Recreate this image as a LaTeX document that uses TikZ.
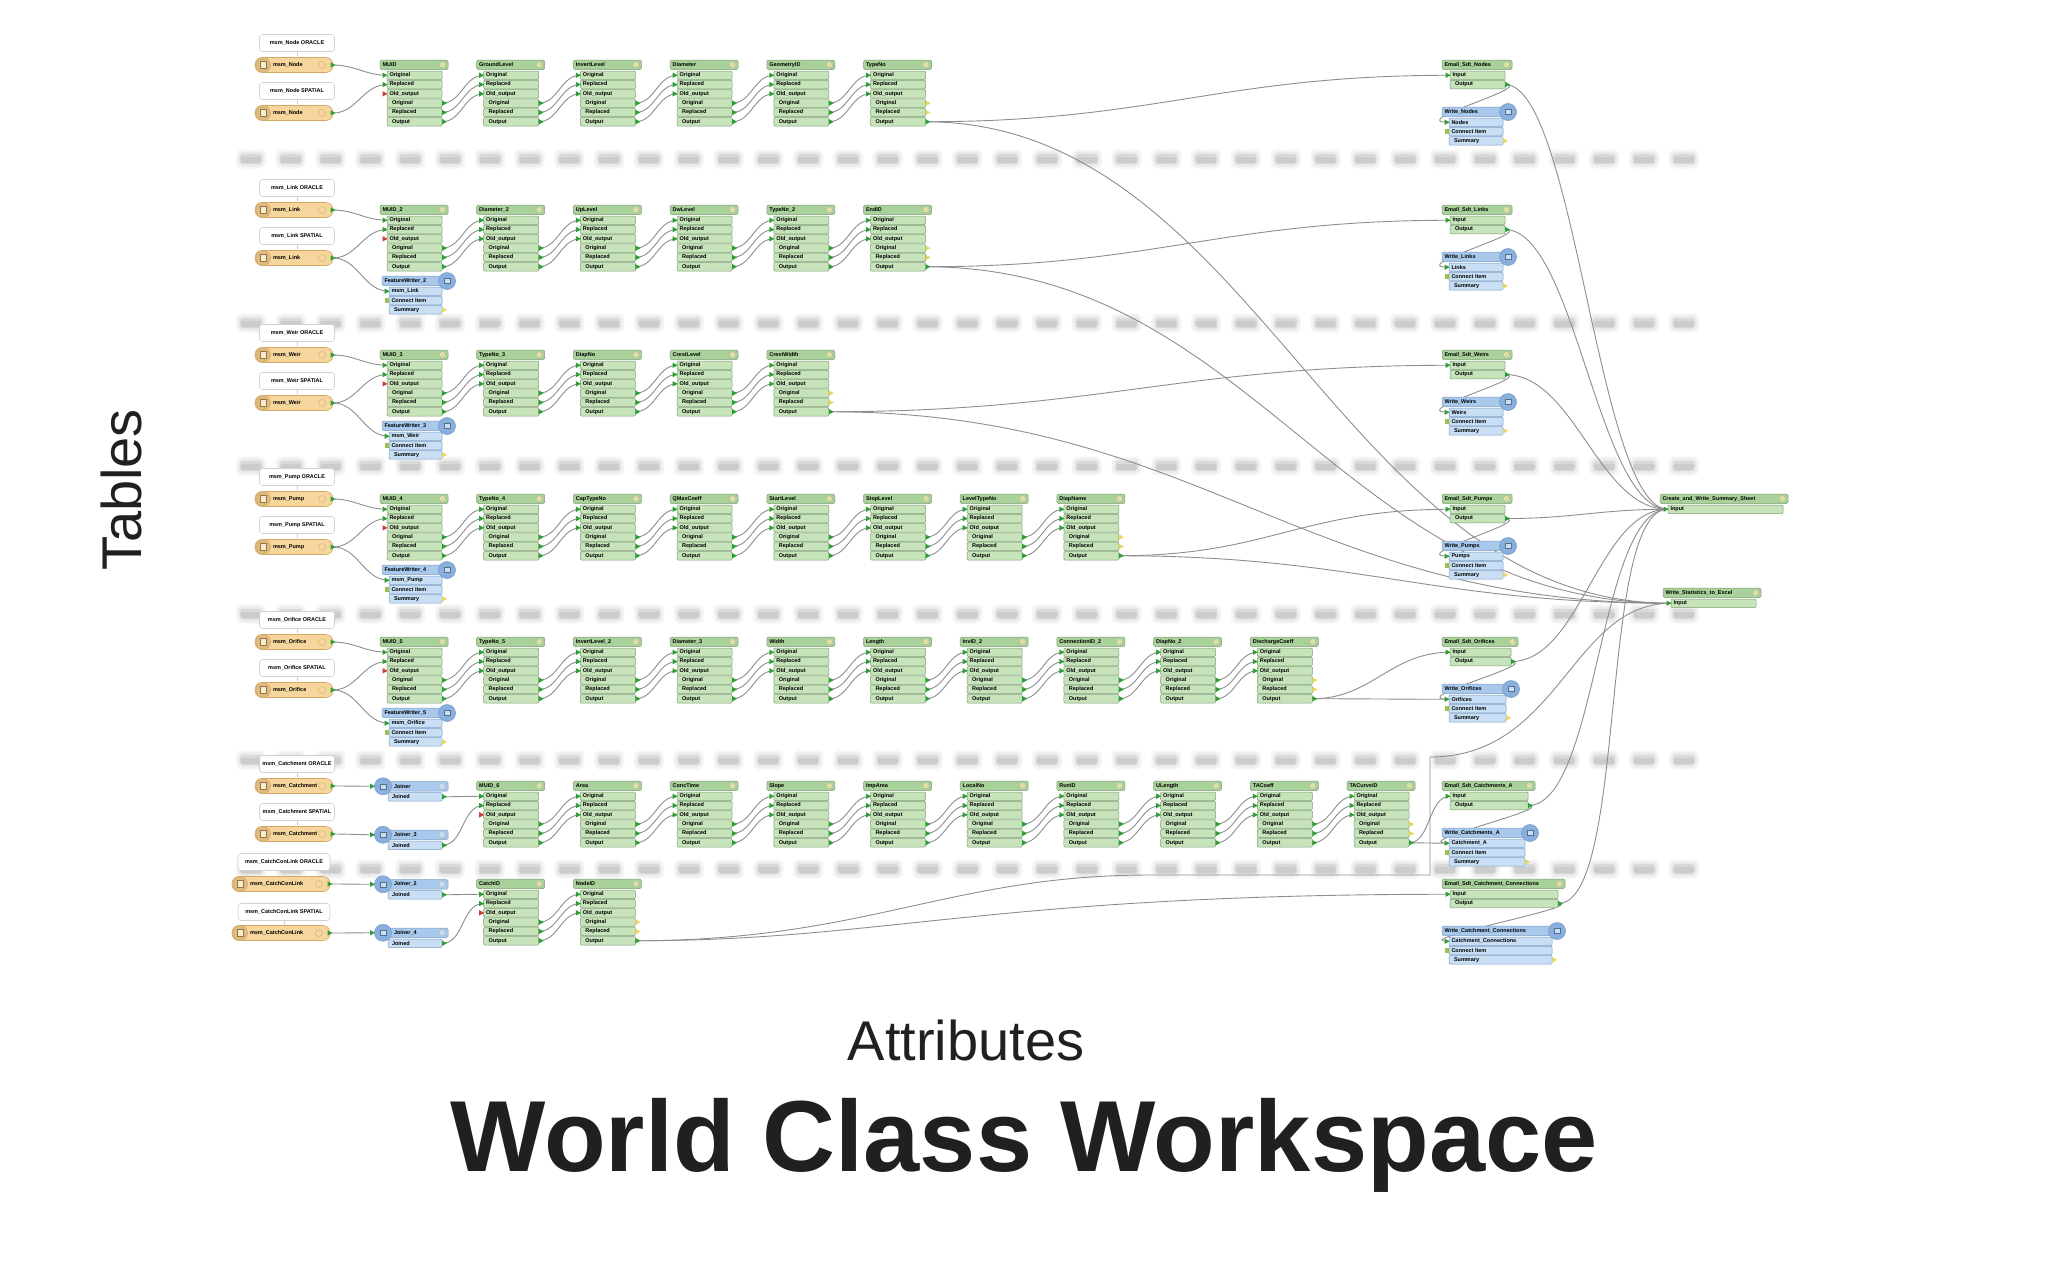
\documentclass[tikz,border=0pt]{standalone}
\usepackage{fontspec}
\setmainfont{Liberation Sans}
\usetikzlibrary{calc}
\pgfdeclarelayer{bg}
\pgfsetlayers{bg,main}
\definecolor{hdrg}{HTML}{A9D19A}
\definecolor{bodyg}{HTML}{C7E3BA}
\definecolor{brdg}{HTML}{7F9E77}
\definecolor{hicg}{HTML}{DCE29E}
\definecolor{portc}{HTML}{2E9E36}
\definecolor{yelc}{HTML}{E8D65E}
\definecolor{redc}{HTML}{D23B3B}
\definecolor{hdrb}{HTML}{A9C9EC}
\definecolor{bodyb}{HTML}{C8DEF4}
\definecolor{brdb}{HTML}{7D9DC5}
\definecolor{iconb}{HTML}{88AFDD}
\definecolor{rdo}{HTML}{F6D69D}
\definecolor{brdo}{HTML}{D2AA66}
\definecolor{icono}{HTML}{DFBA7E}
\definecolor{linec}{HTML}{8E8E8E}
\definecolor{titlec}{HTML}{202020}

\tikzset{
  every node/.style={font=\fontsize{5.5}{6}\selectfont\bfseries, inner sep=0pt, outer sep=0pt},
  hboxg/.style={draw=brdg, fill=hdrg, line width=0.5pt, rounded corners=1.5pt, anchor=north west, minimum height=9.5},
  pboxg/.style={draw=brdg, fill=bodyg, line width=0.5pt, rounded corners=1pt, anchor=north west, minimum height=8.5, minimum width=55},
  hboxb/.style={hboxg, draw=brdb, fill=hdrb},
  pboxb/.style={pboxg, draw=brdb, fill=bodyb},
  txt/.style={anchor=west, text=black},
  hic/.style={circle, draw=black!30, fill=hicg, minimum size=6.5, line width=0.4pt},
  bic/.style={circle, draw=brdb, fill=iconb, minimum size=17, line width=0.6pt},
  bici/.style={draw=brdb!70!black, fill=bodyb, minimum width=6, minimum height=5, line width=0.4pt},
  rbox/.style={draw=brdo, fill=rdo, rounded corners=7pt, line width=0.6pt, anchor=west, minimum height=15},
  ric/.style={circle, draw=brdo, fill=icono, minimum size=15, line width=0.5pt},
  rici/.style={draw=brdo!70!black, fill=rdo!50!white, minimum width=6, minimum height=7, line width=0.4pt},
  rsm/.style={circle, draw=brdo, minimum size=7, line width=0.4pt},
  cbox/.style={draw=black!18, fill=white, rounded corners=3pt, line width=0.6pt, minimum height=17},
  wire/.style={draw=linec, line width=0.9pt},
  bigt/.style={text=titlec, font=\fontsize{56}{60}\selectfont},
  bigb/.style={text=titlec, font=\fontsize{101}{110}\selectfont\bfseries},
}

\newcommand{\fmtri}[2]{\fill[#1] #2 ++(-2.5,-2.7) -- ++(5,2.7) -- ++(-5,2.7) -- cycle;}
\newcommand{\fmsq}[2]{\fill[#1] #2 ++(-2.2,-2.2) rectangle ++(4.4,4.4);}

% transformer: name x y label outcolor i3color
\newcommand{\fmxf}[6]{%
  \begin{scope}[shift={(#2,#3)}]
    \node[hboxg, minimum width=68] (#1) at (0,0) {};
    \node[txt] (#1-l) at (2.5,4.75) {#4};
    \node[hic] (#1-c) at (62.5,4.75) {};
    \foreach \j/\pl in {1/Original,2/Replaced,3/Old\_output}{%
      \node[pboxg] (#1-i\j) at (7,{11+(\j-1)*9.3}) {};
      \node[txt] (#1-i\j-l) at (9.5,{15.25+(\j-1)*9.3}) {\pl};
    }
    \foreach \j/\pl in {1/Original,2/Replaced,3/Output}{%
      \node[pboxg] (#1-o\j) at (7,{38.9+(\j-1)*9.3}) {};
      \node[txt] (#1-o\j-l) at (12,{43.15+(\j-1)*9.3}) {\pl};
    }
  \end{scope}
  \fmtri{portc}{([xshift=-2pt]#1-i1.west)}
  \fmtri{portc}{([xshift=-2pt]#1-i2.west)}
  \fmtri{#6}{([xshift=-2pt]#1-i3.west)}
  \fmtri{#5}{([xshift=2.5pt]#1-o1.east)}
  \fmtri{#5}{([xshift=2.5pt]#1-o2.east)}
  \fmtri{portc}{([xshift=2.5pt]#1-o3.east)}
}

% email box: name x y W label
\newcommand{\fmem}[5]{%
  \pgfmathsetmacro{\fmw}{#4-15}%
  \begin{scope}[shift={(#2,#3)}]
    \node[hboxg, minimum width=#4] (#1) at (0,0) {};
    \node[txt] (#1-l) at (2.5,4.75) {#5};
    \node[hic] (#1-c) at ({#4-5.5},4.75) {};
    \node[pboxg, minimum width=\fmw] (#1-i1) at (8,11) {};
    \node[txt] (#1-i1-l) at (10.5,15.25) {Input};
    \node[pboxg, minimum width=\fmw] (#1-o1) at (8,20.3) {};
    \node[txt] (#1-o1-l) at (13,24.55) {Output};
  \end{scope}
  \fmtri{portc}{([xshift=-2pt]#1-i1.west)}
  \fmtri{portc}{([xshift=2.5pt]#1-o1.east)}
}

% blue writer: name x y W label p1 p2 p3
\newcommand{\fmwr}[8]{%
  \pgfmathsetmacro{\fmw}{#4-7}%
  \begin{scope}[shift={(#2,#3)}]
    \node[hboxb, minimum width=#4] (#1) at (0,0) {};
    \node[txt] (#1-l) at (2.5,4.75) {#5};
    \node[bic] (#1-c) at ({#4+5},5) {};
    \node[bici] (#1-ci) at ({#4+5},5) {};
    \node[pboxb, minimum width=\fmw] (#1-i1) at (7,11) {};
    \node[txt] (#1-i1-l) at (9.5,15.25) {#6};
    \node[pboxb, minimum width=\fmw] (#1-i2) at (7,20.3) {};
    \node[txt] (#1-i2-l) at (9.5,24.55) {#7};
    \node[pboxb, minimum width=\fmw] (#1-o1) at (7,29.6) {};
    \node[txt] (#1-o1-l) at (12,33.85) {#8};
  \end{scope}
  \fmtri{portc}{([xshift=-2pt]#1-i1.west)}
  \fmsq{yelc!60!portc}{([xshift=-2pt]#1-i2.west)}
  \fmtri{yelc}{([xshift=2.5pt]#1-o1.east)}
}

% joiner: name x y label
\newcommand{\fmjn}[4]{%
  \begin{scope}[shift={(#2,#3)}]
    \node[hboxb, minimum width=66] (#1) at (2,0) {};
    \node[hic, fill=bodyb] (#1-h) at (62,4.75) {};
    \node[bic] (#1-c) at (3,4.75) {};
    \node[bici] (#1-ci) at (3,4.75) {};
    \node[txt] (#1-l) at (14,4.75) {#4};
    \node[pboxb, minimum width=54] (#1-o1) at (8,11) {};
    \node[txt] (#1-o1-l) at (12,15.25) {Joined};
  \end{scope}
  \fmtri{portc}{([xshift=-2pt]#1-c.west)}
  \fmtri{portc}{([xshift=2.5pt]#1-o1.east)}
}

% one-input box: name x y W label
\newcommand{\fmone}[5]{%
  \pgfmathsetmacro{\fmw}{#4-13}%
  \begin{scope}[shift={(#2,#3)}]
    \node[hboxg, minimum width=#4] (#1) at (0,0) {};
    \node[txt] (#1-l) at (2.5,4.75) {#5};
    \node[hic] (#1-c) at ({#4-5.5},4.75) {};
    \node[pboxg, minimum width=\fmw] (#1-i1) at (8,11) {};
    \node[txt] (#1-i1-l) at (10.5,15.25) {Input};
  \end{scope}
  \fmtri{portc}{([xshift=-2pt]#1-i1.west)}
}

% reader: name x yc W text
\newcommand{\fmrd}[5]{%
  \node[rbox, minimum width=#4] (#1) at (#2,#3) {};
  \node[ric] (#1-c) at ([xshift=8pt]#1.west) {};
  \node[rici] (#1-ci) at (#1-c) {};
  \node[txt] (#1-l) at ([xshift=18pt]#1.west) {#5};
  \node[rsm] (#1-s) at ([xshift=-11pt]#1.east) {};
  \fmtri{portc}{(#1.east)}
}

% callout: name xc yc W text
\newcommand{\fmcl}[5]{%
  \node[cbox, minimum width=#4] (#1) at (#2,#3) {#5};
  \draw[black!18, line width=0.6pt] (#1.south) -- ++(0,4);
}

\newcommand{\fmchain}[2]{\foreach \j in {1,2,3}{\draw[wire] (#1-o\j.east) to[out=0,in=180] (#2-i\j.west);}}

\begin{document}
\begin{tikzpicture}[x=1pt,y=-1pt]
\useasboundingbox (0,0) rectangle (2048,1280);
\begin{pgfonlayer}{bg}
\fill[white] (0,0) rectangle (2048,1280);
\foreach \yy in {159,323,466,614,760,869}{
  \foreach \i in {0,...,36}{
    \fill[black!4, rounded corners=6pt] ({236+\i*39.8},\yy-9.5) rectangle ++(30,19);
    \fill[black!8, rounded corners=5pt] ({238+\i*39.8},\yy-7.5) rectangle ++(26,15);
    \fill[black!15, rounded corners=3pt] ({240+\i*39.8},\yy-5) rectangle ++(22,10);
    \fill[black!20, rounded corners=2pt] ({241+\i*39.8},\yy-2) rectangle ++(20,6);
  }
}
\end{pgfonlayer}

% ---------- Row 1 ----------
\fmcl{r1n1}{297}{43}{75}{msm\_Node ORACLE}
\fmrd{r1rd1}{255}{65}{78}{msm\_Node}
\fmcl{r1n2}{297}{91}{75}{msm\_Node SPATIAL}
\fmrd{r1rd2}{255}{113}{78}{msm\_Node}
\fmxf{r1a}{380}{60}{MUID}{portc}{redc}
\fmxf{r1b}{476.7}{60}{GroundLevel}{portc}{portc}
\fmxf{r1c}{573.4}{60}{InvertLevel}{portc}{portc}
\fmxf{r1d}{670.1}{60}{Diameter}{portc}{portc}
\fmxf{r1e}{766.8}{60}{GeometryID}{portc}{portc}
\fmxf{r1f}{863.5}{60}{TypeNo}{yelc}{portc}
\fmem{r1em}{1442}{60}{70}{Email\_Sdt\_Nodes}
\fmwr{r1wr}{1442}{107}{61}{Write\_Nodes}{Nodes}{Connect Item}{Summary}

% ---------- Row 2 ----------
\fmcl{r2n1}{297}{188}{75}{msm\_Link ORACLE}
\fmrd{r2rd1}{255}{210}{78}{msm\_Link}
\fmcl{r2n2}{297}{236}{75}{msm\_Link SPATIAL}
\fmrd{r2rd2}{255}{258}{78}{msm\_Link}
\fmxf{r2a}{380}{205}{MUID\_2}{portc}{redc}
\fmxf{r2b}{476.7}{205}{Diameter\_2}{portc}{portc}
\fmxf{r2c}{573.4}{205}{UpLevel}{portc}{portc}
\fmxf{r2d}{670.1}{205}{DwLevel}{portc}{portc}
\fmxf{r2e}{766.8}{205}{TypeNo\_2}{portc}{portc}
\fmxf{r2f}{863.5}{205}{EndID}{yelc}{portc}
\fmwr{r2fw}{382}{276}{60}{FeatureWriter\_2}{msm\_Link}{Connect Item}{Summary}
\fmem{r2em}{1442}{205}{70}{Email\_Sdt\_Links}
\fmwr{r2wr}{1442}{252}{61}{Write\_Links}{Links}{Connect Item}{Summary}

% ---------- Row 3 ----------
\fmcl{r3n1}{297}{333}{75}{msm\_Weir ORACLE}
\fmrd{r3rd1}{255}{355}{78}{msm\_Weir}
\fmcl{r3n2}{297}{381}{75}{msm\_Weir SPATIAL}
\fmrd{r3rd2}{255}{403}{78}{msm\_Weir}
\fmxf{r3a}{380}{350}{MUID\_3}{portc}{redc}
\fmxf{r3b}{476.7}{350}{TypeNo\_3}{portc}{portc}
\fmxf{r3c}{573.4}{350}{DiapNo}{portc}{portc}
\fmxf{r3d}{670.1}{350}{CrestLevel}{portc}{portc}
\fmxf{r3e}{766.8}{350}{CrestWidth}{yelc}{portc}
\fmwr{r3fw}{382}{421}{60}{FeatureWriter\_3}{msm\_Weir}{Connect Item}{Summary}
\fmem{r3em}{1442}{350}{70}{Email\_Sdt\_Weirs}
\fmwr{r3wr}{1442}{397}{61}{Write\_Weirs}{Weirs}{Connect Item}{Summary}

% ---------- Row 4 ----------
\fmcl{r4n1}{297}{477}{75}{msm\_Pump ORACLE}
\fmrd{r4rd1}{255}{499}{78}{msm\_Pump}
\fmcl{r4n2}{297}{525}{75}{msm\_Pump SPATIAL}
\fmrd{r4rd2}{255}{547}{78}{msm\_Pump}
\fmxf{r4a}{380}{494}{MUID\_4}{portc}{redc}
\fmxf{r4b}{476.7}{494}{TypeNo\_4}{portc}{portc}
\fmxf{r4c}{573.4}{494}{CapTypeNo}{portc}{portc}
\fmxf{r4d}{670.1}{494}{QMaxCoeff}{portc}{portc}
\fmxf{r4e}{766.8}{494}{StartLevel}{portc}{portc}
\fmxf{r4f}{863.5}{494}{StopLevel}{portc}{portc}
\fmxf{r4g}{960.2}{494}{LevelTypeNo}{portc}{portc}
\fmxf{r4h}{1056.9}{494}{DiapName}{yelc}{portc}
\fmwr{r4fw}{382}{565}{60}{FeatureWriter\_4}{msm\_Pump}{Connect Item}{Summary}
\fmem{r4em}{1442}{494}{70}{Email\_Sdt\_Pumps}
\fmwr{r4wr}{1442}{541}{61}{Write\_Pumps}{Pumps}{Connect Item}{Summary}

% ---------- Row 5 ----------
\fmcl{r5n1}{297}{620}{75}{msm\_Orifice ORACLE}
\fmrd{r5rd1}{255}{642}{78}{msm\_Orifice}
\fmcl{r5n2}{297}{668}{75}{msm\_Orifice SPATIAL}
\fmrd{r5rd2}{255}{690}{78}{msm\_Orifice}
\fmxf{r5a}{380}{637}{MUID\_5}{portc}{redc}
\fmxf{r5b}{476.7}{637}{TypeNo\_5}{portc}{portc}
\fmxf{r5c}{573.4}{637}{InvertLevel\_2}{portc}{portc}
\fmxf{r5d}{670.1}{637}{Diameter\_3}{portc}{portc}
\fmxf{r5e}{766.8}{637}{Width}{portc}{portc}
\fmxf{r5f}{863.5}{637}{Length}{portc}{portc}
\fmxf{r5g}{960.2}{637}{InvID\_2}{portc}{portc}
\fmxf{r5h}{1056.9}{637}{ConnectionID\_2}{portc}{portc}
\fmxf{r5i}{1153.6}{637}{DiapNo\_2}{portc}{portc}
\fmxf{r5j}{1250.3}{637}{DischargeCoeff}{yelc}{portc}
\fmwr{r5fw}{382}{708}{60}{FeatureWriter\_5}{msm\_Orifice}{Connect Item}{Summary}
\fmem{r5em}{1442}{637}{76}{Email\_Sdt\_Orifices}
\fmwr{r5wr}{1442}{684}{64}{Write\_Orifices}{Orifices}{Connect Item}{Summary}

% ---------- Row 6 ----------
\fmcl{r6n1}{297}{764}{75}{msm\_Catchment ORACLE}
\fmrd{r6rd1}{255}{786}{78}{msm\_Catchment}
\fmcl{r6n2}{297}{812}{75}{msm\_Catchment SPATIAL}
\fmrd{r6rd2}{255}{834}{78}{msm\_Catchment}
\fmjn{r6j1}{380}{781.5}{Joiner}
\fmjn{r6j2}{380}{830}{Joiner\_3}
\fmxf{r6b}{476.7}{781}{MUID\_6}{portc}{redc}
\fmxf{r6c}{573.4}{781}{Area}{portc}{portc}
\fmxf{r6d}{670.1}{781}{ConcTime}{portc}{portc}
\fmxf{r6e}{766.8}{781}{Slope}{portc}{portc}
\fmxf{r6f}{863.5}{781}{ImpArea}{portc}{portc}
\fmxf{r6g}{960.2}{781}{LocalNo}{portc}{portc}
\fmxf{r6h}{1056.9}{781}{RunID}{portc}{portc}
\fmxf{r6i}{1153.6}{781}{ULength}{portc}{portc}
\fmxf{r6j}{1250.3}{781}{TACoeff}{portc}{portc}
\fmxf{r6k}{1347}{781}{TACurveID}{yelc}{portc}
\fmem{r6em}{1442}{781}{93}{Email\_Sdt\_Catchments\_A}
\fmwr{r6wr}{1442}{828}{83}{Write\_Catchments\_A}{Catchment\_A}{Connect Item}{Summary}

% ---------- Row 7 ----------
\fmcl{r7n1}{284}{862}{92}{msm\_CatchConLink ORACLE}
\fmrd{r7rd1}{232}{884}{98}{msm\_CatchConLink}
\fmcl{r7n2}{284}{912}{92}{msm\_CatchConLink SPATIAL}
\fmrd{r7rd2}{232}{933}{98}{msm\_CatchConLink}
\fmjn{r7j1}{380}{879.5}{Joiner\_2}
\fmjn{r7j2}{380}{928}{Joiner\_4}
\fmxf{r7b}{476.7}{879}{CatchID}{portc}{redc}
\fmxf{r7c}{573.4}{879}{NodeID}{yelc}{portc}
\fmem{r7em}{1442}{879}{123}{Email\_Sdt\_Catchment\_Connections}
\fmwr{r7wr}{1442}{926}{110}{Write\_Catchment\_Connections}{Catchment\_Connections}{Connect Item}{Summary}

% ---------- Final ----------
\fmone{cws}{1660}{494}{128}{Create\_and\_Write\_Summary\_Sheet}
\fmone{wse}{1663}{588}{98}{Write\_Statistics\_to\_Excel}

\coordinate (r7w1) at (1150,875);
\coordinate (r7w2) at (1430,875);
\coordinate (r7w3) at (1430,757);

% ---------- Titles ----------
\node[bigt, rotate=90, anchor=base] (tables) at (141,490) {Tables};
\node[bigt, anchor=base] (attr) at (966,1060) {Attributes};
\node[bigb, anchor=base] (title) at (1024,1171) {World Class Workspace};

% ---------- Connectors ----------
\begin{pgfonlayer}{bg}
% row 1
\draw[wire] (r1rd1.east) to[out=0,in=180] (r1a-i1.west);
\draw[wire] (r1rd2.east) to[out=0,in=180] (r1a-i2.west);
\fmchain{r1a}{r1b}\fmchain{r1b}{r1c}\fmchain{r1c}{r1d}\fmchain{r1d}{r1e}\fmchain{r1e}{r1f}
\draw[wire] (r1f-o3.east) .. controls +(230,0) and +(-230,0) .. (r1em-i1.west);
\draw[wire] (r1f-o3.east) .. controls +(330,0) and +(-330,0) .. (wse-i1.west);
% row 2
\draw[wire] (r2rd1.east) to[out=0,in=180] (r2a-i1.west);
\draw[wire] (r2rd2.east) to[out=0,in=180] (r2a-i2.west);
\draw[wire] (r2rd2.east) to[out=0,in=180] (r2fw-i1.west);
\fmchain{r2a}{r2b}\fmchain{r2b}{r2c}\fmchain{r2c}{r2d}\fmchain{r2d}{r2e}\fmchain{r2e}{r2f}
\draw[wire] (r2f-o3.east) .. controls +(230,0) and +(-230,0) .. (r2em-i1.west);
\draw[wire] (r2f-o3.east) .. controls +(330,0) and +(-330,0) .. (wse-i1.west);
% row 3
\draw[wire] (r3rd1.east) to[out=0,in=180] (r3a-i1.west);
\draw[wire] (r3rd2.east) to[out=0,in=180] (r3a-i2.west);
\draw[wire] (r3rd2.east) to[out=0,in=180] (r3fw-i1.west);
\fmchain{r3a}{r3b}\fmchain{r3b}{r3c}\fmchain{r3c}{r3d}\fmchain{r3d}{r3e}
\draw[wire] (r3e-o3.east) .. controls +(270,0) and +(-270,0) .. (r3em-i1.west);
\draw[wire] (r3e-o3.east) .. controls +(370,0) and +(-370,0) .. (wse-i1.west);
% row 4
\draw[wire] (r4rd1.east) to[out=0,in=180] (r4a-i1.west);
\draw[wire] (r4rd2.east) to[out=0,in=180] (r4a-i2.west);
\draw[wire] (r4rd2.east) to[out=0,in=180] (r4fw-i1.west);
\fmchain{r4a}{r4b}\fmchain{r4b}{r4c}\fmchain{r4c}{r4d}\fmchain{r4d}{r4e}\fmchain{r4e}{r4f}\fmchain{r4f}{r4g}\fmchain{r4g}{r4h}
\draw[wire] (r4h-o3.east) .. controls +(150,0) and +(-150,0) .. (r4em-i1.west);
\draw[wire] (r4h-o3.east) .. controls +(240,0) and +(-240,0) .. (wse-i1.west);
% row 5
\draw[wire] (r5rd1.east) to[out=0,in=180] (r5a-i1.west);
\draw[wire] (r5rd2.east) to[out=0,in=180] (r5a-i2.west);
\draw[wire] (r5rd2.east) to[out=0,in=180] (r5fw-i1.west);
\fmchain{r5a}{r5b}\fmchain{r5b}{r5c}\fmchain{r5c}{r5d}\fmchain{r5d}{r5e}\fmchain{r5e}{r5f}\fmchain{r5f}{r5g}\fmchain{r5g}{r5h}\fmchain{r5h}{r5i}\fmchain{r5i}{r5j}
\draw[wire] (r5j-o3.east) .. controls +(60,0) and +(-60,0) .. (r5em-i1.west);
\draw[wire] (r5j-o3.east) to[out=0,in=180] (r5wr-i1.west);
% row 6
\draw[wire] (r6rd1.east) to[out=0,in=180] (r6j1-c.west);
\draw[wire] (r6rd2.east) to[out=0,in=180] (r6j2-c.west);
\draw[wire] (r6j1-o1.east) to[out=0,in=180] (r6b-i1.west);
\draw[wire] (r6j2-o1.east) to[out=0,in=180] (r6b-i2.west);
\fmchain{r6b}{r6c}\fmchain{r6c}{r6d}\fmchain{r6d}{r6e}\fmchain{r6e}{r6f}\fmchain{r6f}{r6g}\fmchain{r6g}{r6h}\fmchain{r6h}{r6i}\fmchain{r6i}{r6j}\fmchain{r6j}{r6k}
\draw[wire] (r6k-o3.east) .. controls +(22,0) and +(-22,0) .. (r6em-i1.west);
\draw[wire] (r6k-o3.east) -- (r6wr-i1.west);
% row 7
\draw[wire] (r7rd1.east) to[out=0,in=180] (r7j1-c.west);
\draw[wire] (r7rd2.east) to[out=0,in=180] (r7j2-c.west);
\draw[wire] (r7j1-o1.east) to[out=0,in=180] (r7b-i1.west);
\draw[wire] (r7j2-o1.east) to[out=0,in=180] (r7b-i2.west);
\fmchain{r7b}{r7c}
\draw[wire] (r7c-o3.east) .. controls +(250,0) and +(-460,0) .. (r7em-i1.west);
\draw[wire] (r7c-o3.east) .. controls +(230,0) and +(-200,0) .. (r7w1) -- (r7w2) -- (r7w3) .. controls +(130,0) and +(-100,0) .. (wse-i1.west);
% email -> write loops and email -> summary
\foreach \r in {1,2,3,4,5,6,7}{
  \draw[wire] (r\r em-o1.east) .. controls +(30,2) and +(-45,0) .. (r\r wr-i1.west);
  \draw[wire] (r\r em-o1.east) .. controls +(70,0) and +(-70,0) .. (cws-i1.west);
}
\end{pgfonlayer}
\end{tikzpicture}
\end{document}
